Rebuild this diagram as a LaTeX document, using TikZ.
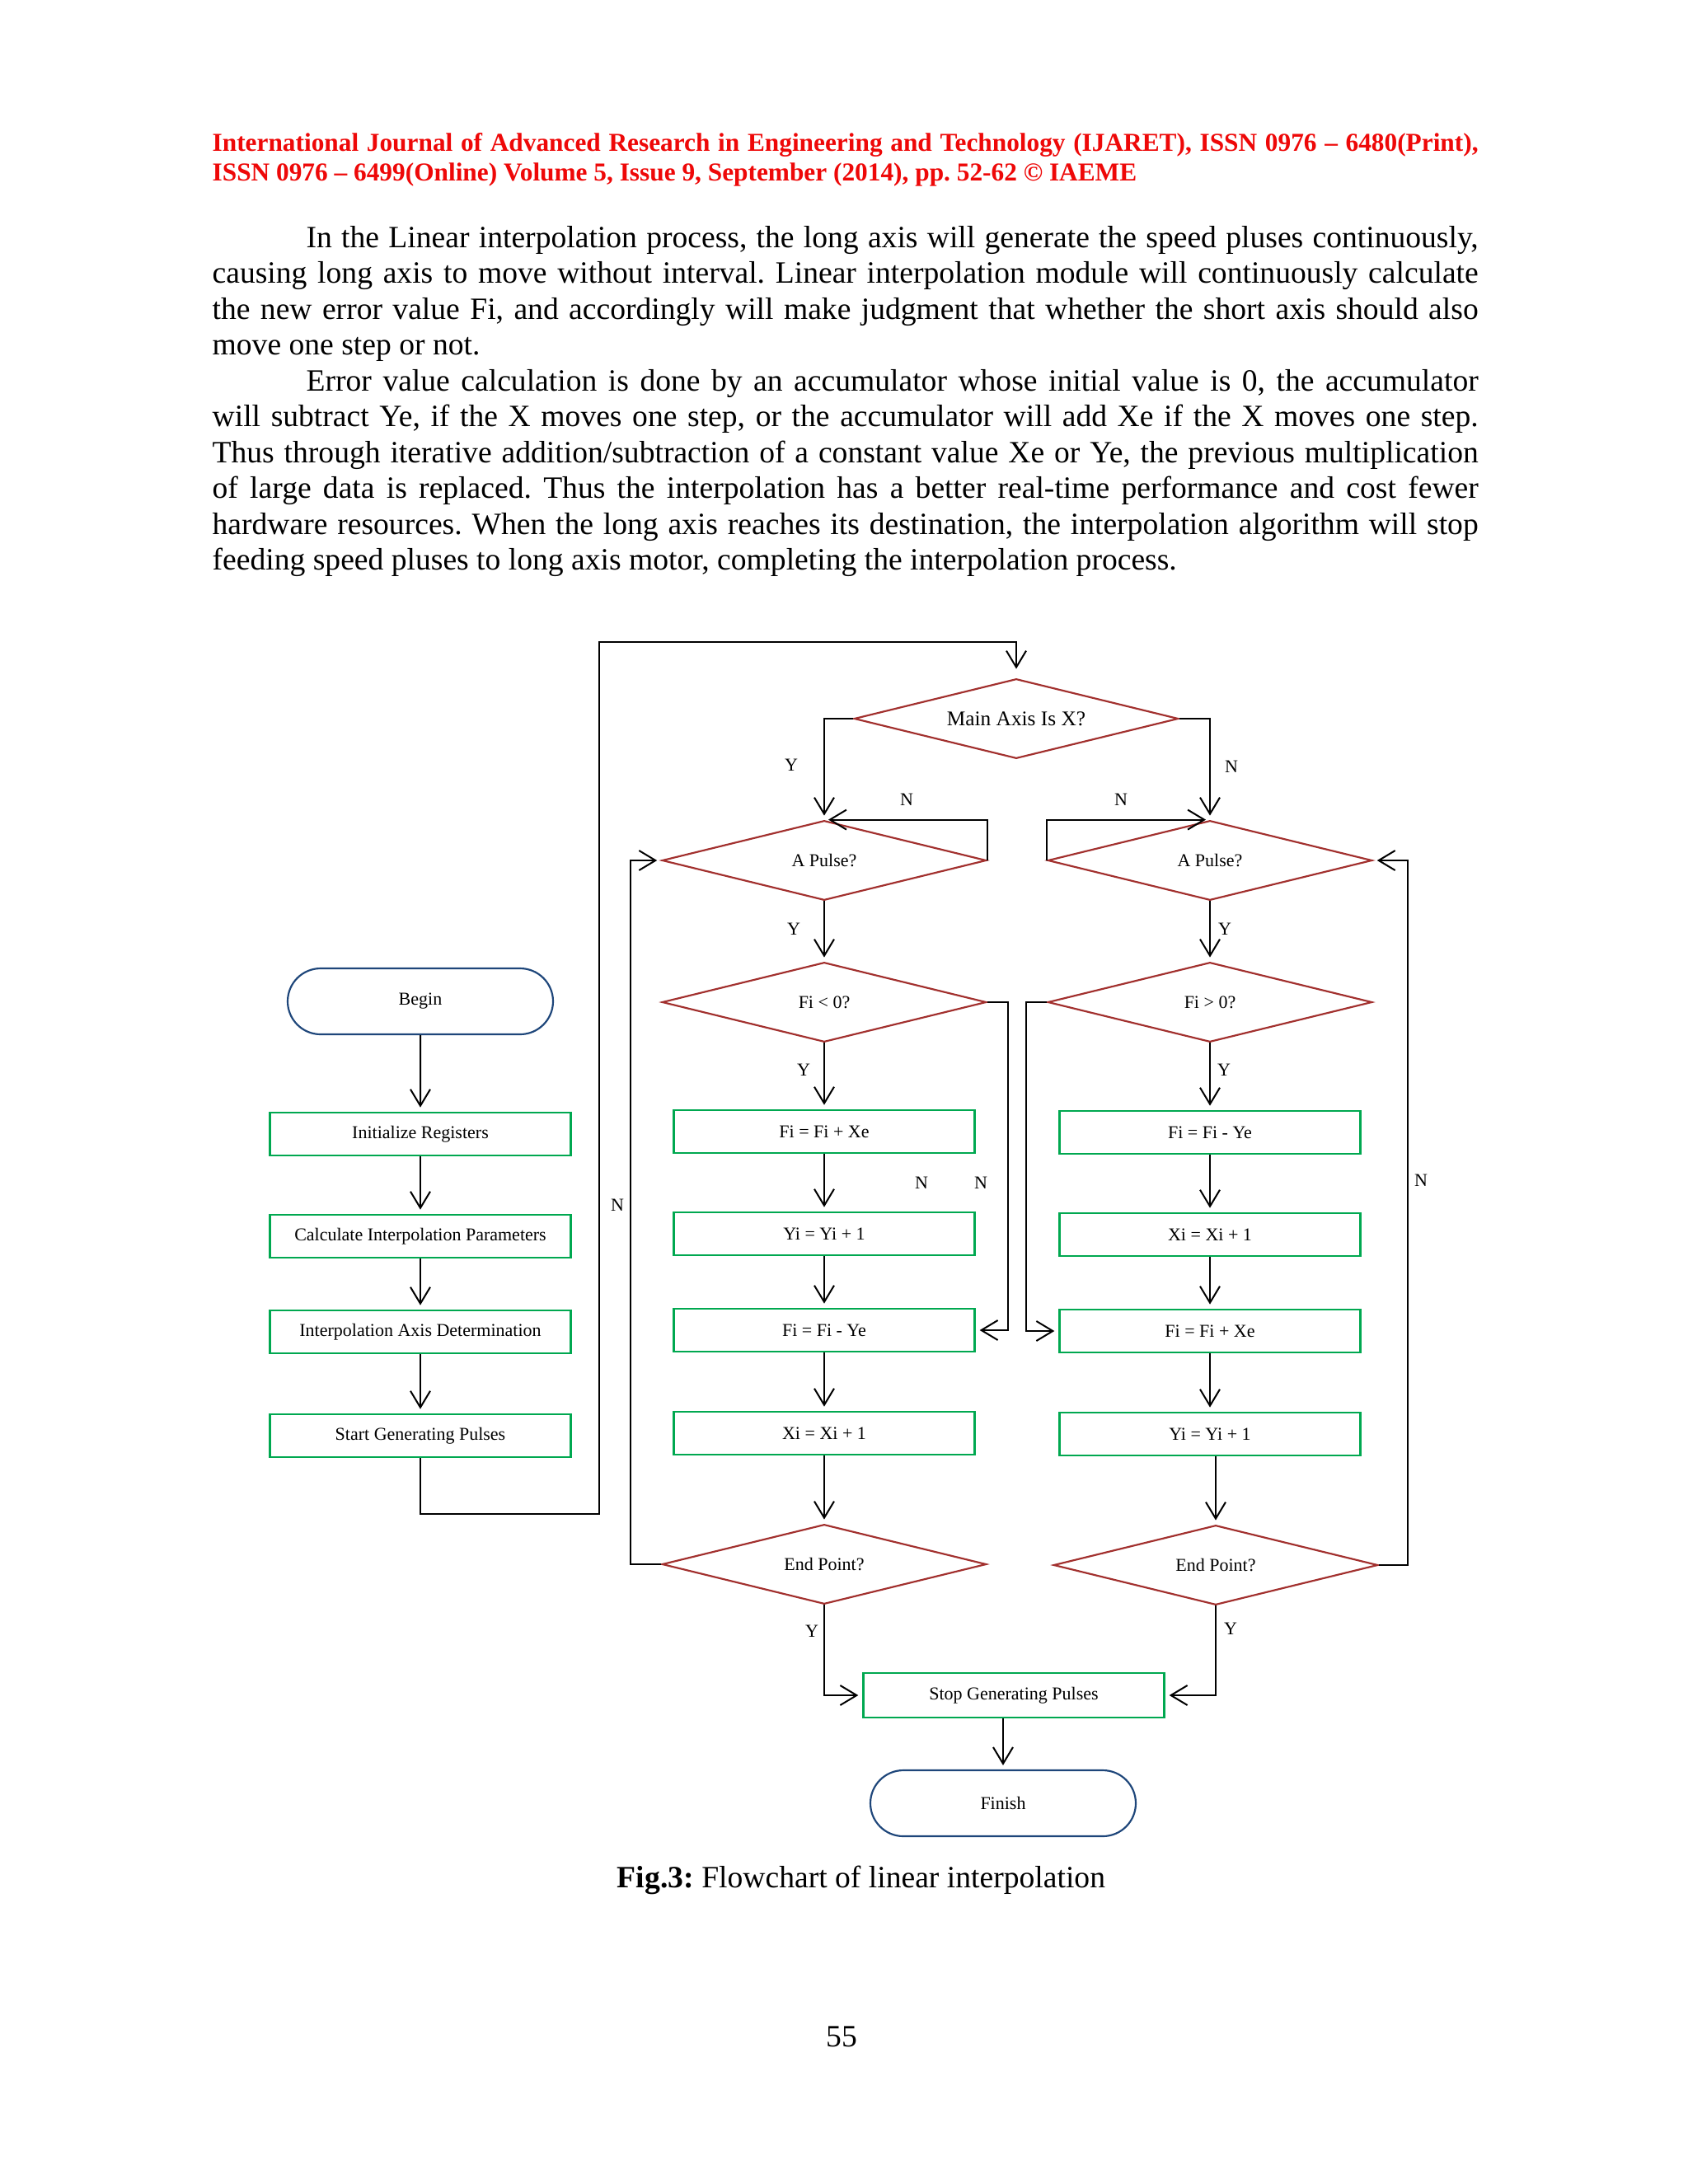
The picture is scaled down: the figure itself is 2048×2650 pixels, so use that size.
\documentclass[tikz,border=0pt]{standalone}
\usepackage{fontspec}
\setmainfont{Liberation Serif}
\frenchspacing
\usetikzlibrary{shapes.geometric,shapes.misc,arrows.meta}
\definecolor{zagred}{RGB}{238,8,8}
\definecolor{rombred}{RGB}{162,48,46}
\definecolor{blokgreen}{RGB}{0,168,80}
\definecolor{ovalblue}{RGB}{30,70,122}
\newcommand{\fcfont}{\fontsize{6.6}{8}\selectfont}

\begin{document}
\begin{tikzpicture}[
        x=0.3pt, y=-0.3pt, % 1 единица = 1 пиксель страницы
        blok/.style = {rectangle, draw=blokgreen, line width=0.7pt, minimum width=109.5pt, minimum height=15.7pt, inner sep=0pt, font=\fcfont}, % Действие
        romb/.style = {diamond, draw=rombred, line width=0.65pt, shape aspect=4, minimum width=118pt, minimum height=29pt, inner sep=0pt, font=\fcfont}, % Условие
        oval/.style = {rounded rectangle, draw=ovalblue, line width=0.65pt, minimum width=96.6pt, minimum height=24pt, inner sep=0pt, font=\fcfont}, % Начало и конец
        metka/.style = {font=\fcfont, inner sep=0pt}, % Метки Y и N
        arr/.style = {draw, line width=0.6pt, shorten >=1.5pt, -{Straight Barb[length=6pt, width=7.2pt]}}, % Стрелки
        abzac/.style = {anchor=base west, inner sep=0pt, text width=460.8pt, align=justify}, % Текст страницы
    ]

    \useasboundingbox (0,0) rectangle (2048,2650);
    \fill[white] (0,0) rectangle (2048,2650);

    % Текст страницы
    \node[abzac, text=zagred, font=\bfseries\fontsize{9.4}{10.8}\selectfont] (shapka) at (257,183)
        {International Journal of Advanced Research in Engineering and Technology (IJARET), ISSN 0976 – 6480(Print),\linebreak
         ISSN 0976 – 6499(Online) Volume 5, Issue 9, September (2014), pp. 52-62 © IAEME};
    \node[abzac, font=\fontsize{11.28}{13.05}\selectfont] (tekst) at (257,300)
        {\hspace*{34.2pt}In the Linear interpolation process, the long axis will generate the speed pluses continuously,\linebreak
         causing long axis to move without interval. Linear interpolation module will continuously calculate\linebreak
         the new error value Fi, and accordingly will make judgment that whether the short axis should also\linebreak
         move one step or not.\par
         \hspace*{34.2pt}Error value calculation is done by an accumulator whose initial value is 0, the accumulator\linebreak
         will subtract Ye, if the X moves one step, or the accumulator will add Xe if the X moves one step.\linebreak
         Thus through iterative addition/subtraction of a constant value Xe or Ye, the previous multiplication\linebreak
         of large data is replaced. Thus the interpolation has a better real-time performance and cost fewer\linebreak
         hardware resources. When the long axis reaches its destination, the interpolation algorithm will stop\linebreak
         feeding speed pluses to long axis motor, completing the interpolation process.};
    \node[anchor=base, font=\fontsize{11.28}{13.05}\selectfont] (podpis) at (1045,2290)
        {\textbf{Fig.3:} Flowchart of linear interpolation};
    \node[anchor=base, font=\fontsize{11.28}{13.05}\selectfont] (nomer) at (1021,2483) {55};

    % Подготовка
    \node[oval] (begin) at (510,1215) {Begin};
    \node[blok] (init) at (510,1376) {Initialize Registers};
    \node[blok] (calc) at (510,1500) {Calculate Interpolation Parameters};
    \node[blok] (axis) at (510,1616) {Interpolation Axis Determination};
    \node[blok] (start) at (510,1742) {Start Generating Pulses};

    % Интерполяция
    \node[romb, font=\fontsize{7.6}{9}\selectfont] (main) at (1233,872) {Main Axis Is X?};
    \node[romb] (pulseL) at (1000,1044) {A Pulse?};
    \node[romb] (pulseR) at (1468,1044) {A Pulse?};
    \node[romb] (fiL) at (1000,1216) {Fi < 0?};
    \node[romb] (fiR) at (1468,1216) {Fi > 0?};
    \node[blok] (xL1) at (1000,1373) {Fi = Fi + Xe};
    \node[blok] (xL2) at (1000,1497) {Yi = Yi + 1};
    \node[blok] (xL3) at (1000,1614) {Fi = Fi - Ye};
    \node[blok] (xL4) at (1000,1739) {Xi = Xi + 1};
    \node[blok] (xR1) at (1468,1374) {Fi = Fi - Ye};
    \node[blok] (xR2) at (1468,1498) {Xi = Xi + 1};
    \node[blok] (xR3) at (1468,1615) {Fi = Fi + Xe};
    \node[blok] (xR4) at (1468,1740) {Yi = Yi + 1};
    \node[romb] (endL) at (1000,1898) {End Point?};
    \node[romb] (endR) at (1475,1899) {End Point?};
    \node[blok, minimum height=16.2pt] (stop) at (1230,2057) {Stop Generating Pulses};
    \node[oval] (finish) at (1217,2188) {Finish};

    % Метки
    \node[metka] (yA) at (960,928) {Y};
    \node[metka] (nA) at (1494,930) {N};
    \node[metka] (nB) at (1100,970) {N};
    \node[metka] (nC) at (1360,970) {N};
    \node[metka] (yB) at (963,1127) {Y};
    \node[metka] (yC) at (1486,1127) {Y};
    \node[metka] (yD) at (975,1298) {Y};
    \node[metka] (yE) at (1485,1298) {Y};
    \node[metka] (nD) at (1118,1435) {N};
    \node[metka] (nE) at (1190,1435) {N};
    \node[metka] (nF) at (749,1462) {N};
    \node[metka] (nG) at (1724,1432) {N};
    \node[metka] (yF) at (985,1979) {Y};
    \node[metka] (yG) at (1493,1976) {Y};

    % Стрелки
    \draw[arr] (begin) -- (init);
    \draw[arr] (init) -- (calc);
    \draw[arr] (calc) -- (axis);
    \draw[arr] (axis) -- (start);
    \coordinate (obhodN) at (727,1837);
    \coordinate (obhodV) at (727,779);
    \draw[arr, shorten >=3.3pt] (start.south) |- (obhodN) -- (obhodV) -| (main.north);

    \draw[arr] (main.west) -| (pulseL.north);
    \draw[arr] (main.east) -| (pulseR.north);
    \draw[arr] (pulseL.east) |- (pulseL.north);
    \draw[arr] (pulseR.west) |- (pulseR.north);
    \draw[arr] (pulseL) -- (fiL);
    \draw[arr] (pulseR) -- (fiR);
    \draw[arr] (fiL) -- (xL1);
    \draw[arr] (fiR) -- (xR1);
    \draw[arr] (xL1) -- (xL2);
    \draw[arr] (xL2) -- (xL3);
    \draw[arr] (xL3) -- (xL4);
    \draw[arr] (xL4) -- (endL);
    \draw[arr] (xR1) -- (xR2);
    \draw[arr] (xR2) -- (xR3);
    \draw[arr] (xR3) -- (xR4);
    \draw[arr] (xR4.south -| endR.north) -- (endR.north);
    \draw[arr] (fiL.east) -- ++(25,0) |- (xL3.east);
    \draw[arr] (fiR.west) -- ++(-25,0) |- (xR3.west);
    \draw[arr] (endL.west) -- ++(-37,0) |- (pulseL.west);
    \draw[arr] (endR.east) -- ++(35,0) |- (pulseR.east);
    \draw[arr] (endL.south) |- (stop.west);
    \draw[arr] (endR.south) |- (stop.east);
    \draw[arr] (stop.south -| finish.north) -- (finish.north);

\end{tikzpicture}
\end{document}
